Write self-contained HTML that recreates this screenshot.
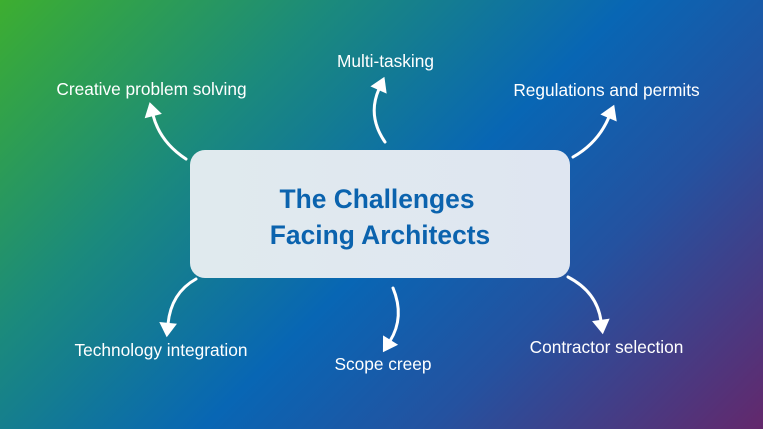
<!DOCTYPE html>
<html><head><meta charset="utf-8"><style>
html,body{margin:0;padding:0;}
body{width:763px;height:429px;overflow:hidden;}
svg{display:block;}
</style></head><body>
<svg width="763" height="429" viewBox="0 0 763 429" xmlns="http://www.w3.org/2000/svg">
<defs>
<linearGradient id="bg2" gradientUnits="userSpaceOnUse" x1="84" y1="-83" x2="679" y2="512">
<stop offset="0" stop-color="#3dae30"/>
<stop offset="0.28" stop-color="#1b8a7c"/>
<stop offset="0.53" stop-color="#0866b4"/>
<stop offset="0.72" stop-color="#2452a0"/>
<stop offset="1" stop-color="#63286c"/>
</linearGradient>
<linearGradient id="box" x1="0" y1="0" x2="1" y2="0">
<stop offset="0" stop-color="#e0eaee"/>
<stop offset="1" stop-color="#dfe6f1"/>
</linearGradient>
<marker id="ah" markerUnits="userSpaceOnUse" markerWidth="16" markerHeight="20" viewBox="-1 -9 14 18" refX="0" refY="0" orient="auto">
<path d="M-1,-8 L12,0 L-1,8 z" fill="#ffffff"/>
</marker>
</defs>
<rect width="763" height="429" fill="url(#bg2)"/>
<rect x="190" y="150" width="380" height="128" rx="15" ry="15" fill="url(#box)"/>
<g font-family="Liberation Sans, Arial, sans-serif" font-weight="bold" font-size="26.4" fill="#0b63ae" text-anchor="middle">
<text x="377" y="208">The Challenges</text>
<text x="380" y="244">Facing Architects</text>
</g>
<g fill="none" stroke="#ffffff" stroke-width="3" stroke-linecap="round">
<path d="M186,159 Q160,142 153,115" marker-end="url(#ah)"/>
<path d="M385,142 Q367,116 379,89" marker-end="url(#ah)"/>
<path d="M573,157 Q598,143 609,117" marker-end="url(#ah)"/>
<path d="M196,279 Q171,293 168,324" marker-end="url(#ah)"/>
<path d="M393,288 Q405,317 390,341" marker-end="url(#ah)"/>
<path d="M568,277 Q597,292 601,321" marker-end="url(#ah)"/>
</g>
<g font-family="Liberation Sans, Arial, sans-serif" font-size="17.3" fill="#ffffff" text-anchor="middle">
<text x="151.5" y="95">Creative problem solving</text>
<text x="385.5" y="67">Multi-tasking</text>
<text x="606.5" y="96">Regulations and permits</text>
<text x="161" y="356">Technology integration</text>
<text x="383" y="370">Scope creep</text>
<text x="606.5" y="353">Contractor selection</text>
</g>
</svg>
</body></html>
